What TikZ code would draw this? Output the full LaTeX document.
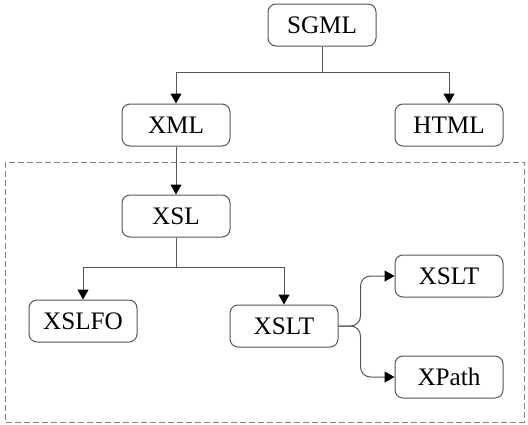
\documentclass[tikz,border=0pt]{standalone}
\usepackage{fontspec}
\setmainfont{Liberation Serif}
\usetikzlibrary{arrows.meta}
\definecolor{edge}{HTML}{555555}
\definecolor{frame}{HTML}{808080}
\tikzset{
  langBox/.style={draw=edge, line width=0.5pt, rounded corners=4pt, minimum width=54pt, minimum height=21pt, inner sep=0pt, font=\fontsize{12.6}{14}\selectfont},
  langArrow/.style={draw=edge, line width=0.5pt, -{Triangle[length=5pt,width=5.5pt,black]}},
  groupBox/.style={draw=frame, line width=0.5pt, dash pattern=on 3pt off 1.5pt}
}

\begin{document}
\begin{tikzpicture}[x=0.5pt,y=-0.5pt]
  \useasboundingbox (0,0) rectangle (528,424);
  \draw[groupBox] (5,162) rectangle (524,422);

  \node[langBox] (sgml) at (322,25) {SGML};
  \node[langBox] (xml) at (176,125) {XML};
  \node[langBox] (html) at (449,125) {HTML};
  \node[langBox] (xsl) at (176,216) {XSL};
  \node[langBox] (xslfo) at (83,321) {XSLFO};
  \node[langBox] (xslt) at (284,326) {XSLT};
  \node[langBox] (xsltB) at (449,276) {XSLT};
  \node[langBox] (xpath) at (449,377) {XPath};

  \draw[langArrow] (sgml.south) -- ++(0,26) -| (xml.north);
  \draw[langArrow] (sgml.south) -- ++(0,26) -| (html.north);
  \draw[langArrow] (xml.south) -- (xsl.north);
  \draw[langArrow] (xsl.south) -- ++(0,30) -| (xslfo.north);
  \draw[langArrow] (xsl.south) -- ++(0,30) -| (xslt.north);
  \draw[langArrow, rounded corners=5pt] (xslt.east) -- ++(22,0) |- (xsltB.west);
  \draw[langArrow, rounded corners=5pt] (xslt.east) -- ++(22,0) |- (xpath.west);
\end{tikzpicture}
\end{document}
